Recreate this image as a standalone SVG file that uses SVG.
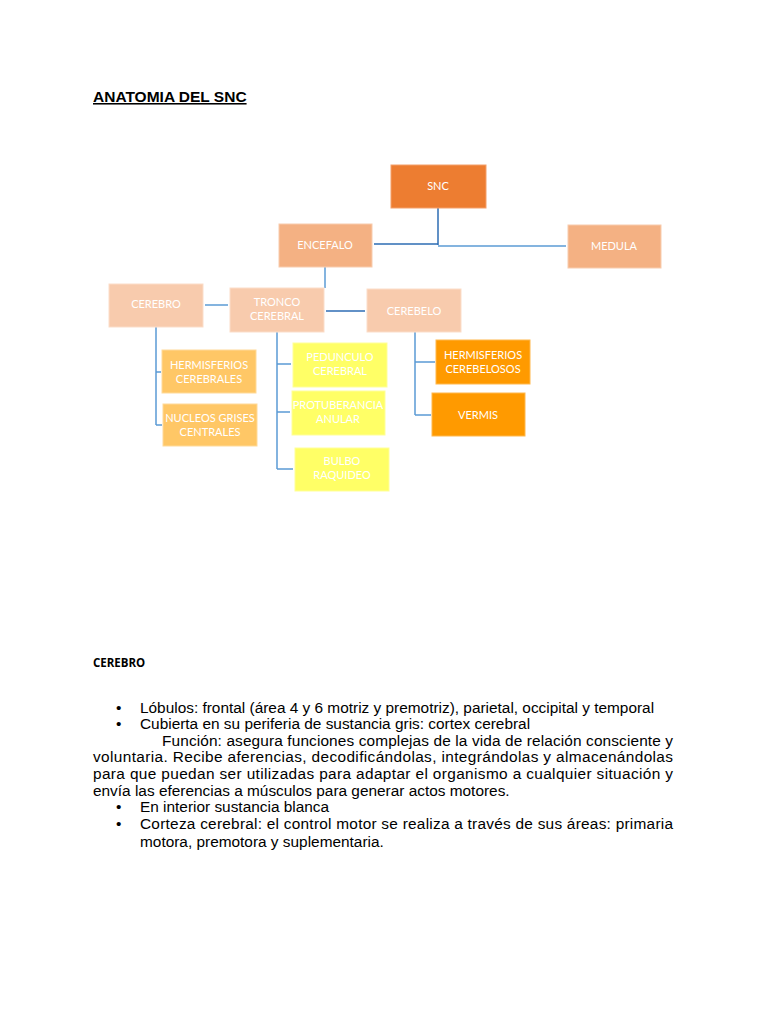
<svg xmlns="http://www.w3.org/2000/svg" width="768" height="1024" viewBox="0 0 768 1024">
<style>
.box{stroke-width:1}
.bt{font-family:Lato,"Open Sans",sans-serif;font-size:11px;fill:#ffffff;text-anchor:middle}
.c{fill:none;stroke:#5B9BD5;stroke-width:1.5}
.cd{fill:none;stroke:#2E6DB4;stroke-width:1.5}
.body{font-family:"Liberation Sans",Arial,sans-serif;font-size:15.4px;fill:#000}
</style>
<rect width="768" height="1024" fill="#ffffff"/>
<text x="93" y="102" font-family="Liberation Sans,Arial,sans-serif" font-size="15.5" font-weight="bold" text-decoration="underline">ANATOMIA DEL SNC</text>

<g id="connectors">
<path class="cd" d="M438 208 V245 M374 244 H438"/>
<path class="c" d="M438 246 H566"/>
<path class="c" d="M325 267 V288"/>
<path class="c" d="M205 305 H228"/>
<path class="cd" d="M326 311 H365"/>
<path class="c" d="M156 327 V425 M156 372 H161 M156 425 H162"/>
<path class="c" d="M277 332 V469 M277 364 H291 M277 412 H290 M277 469 H293"/>
<path class="c" d="M415 332 V415 M415 362 H435 M415 415 H431"/>
</g>

<g id="snc"><rect class="box" x="391" y="165" width="95" height="43" fill="#ED7D31" stroke="#F4A06A"/><text class="bt" x="438" y="190">SNC</text></g>
<g id="encefalo"><rect class="box" x="279" y="224" width="93" height="43" fill="#F4B183" stroke="#F8CCAE"/><text class="bt" x="325" y="249">ENCEFALO</text></g>
<g id="medula"><rect class="box" x="568" y="225" width="93" height="43" fill="#F4B183" stroke="#F8CCAE"/><text class="bt" x="614" y="250">MEDULA</text></g>
<g id="cerebro"><rect class="box" x="109" y="284" width="94" height="43" fill="#F8CBAD" stroke="#FBDDC9"/><text class="bt" x="156" y="308">CEREBRO</text></g>
<g id="tronco"><rect class="box" x="230" y="288" width="94" height="44" fill="#F8CBAD" stroke="#FBDDC9"/><text class="bt" x="277" y="306">TRONCO</text><text class="bt" x="277" y="320">CEREBRAL</text></g>
<g id="cerebelo"><rect class="box" x="367" y="289" width="94" height="43" fill="#F8CBAD" stroke="#FBDDC9"/><text class="bt" x="414" y="315">CEREBELO</text></g>
<g id="hemisferios-cerebrales"><rect class="box" x="162" y="350" width="94" height="43" fill="#FFC766" stroke="#FFDA99"/><text class="bt" x="209" y="369">HERMISFERIOS</text><text class="bt" x="209" y="383">CEREBRALES</text></g>
<g id="nucleos"><rect class="box" x="163" y="404" width="94" height="42" fill="#FFC766" stroke="#FFDA99"/><text class="bt" x="210" y="422">NUCLEOS GRISES</text><text class="bt" x="210" y="436">CENTRALES</text></g>
<g id="pedunculo"><rect class="box" x="293" y="343" width="94" height="44" fill="#FFFF66" stroke="#FFFF99"/><text class="bt" x="340" y="361">PEDUNCULO</text><text class="bt" x="340" y="375">CEREBRAL</text></g>
<g id="protuberancia"><rect class="box" x="292" y="391" width="93" height="44" fill="#FFFF66" stroke="#FFFF99"/><text class="bt" x="338" y="409">PROTUBERANCIA</text><text class="bt" x="338" y="423">ANULAR</text></g>
<g id="bulbo"><rect class="box" x="295" y="448" width="94" height="43" fill="#FFFF66" stroke="#FFFF99"/><text class="bt" x="342" y="465">BULBO</text><text class="bt" x="342" y="479">RAQUIDEO</text></g>
<g id="hemisferios-cerebelosos"><rect class="box" x="436" y="340" width="94" height="44" fill="#FF9A00" stroke="#FFB84D"/><text class="bt" x="483" y="359">HERMISFERIOS</text><text class="bt" x="483" y="373">CEREBELOSOS</text></g>
<g id="vermis"><rect class="box" x="432" y="393" width="93" height="43" fill="#FF9A00" stroke="#FFB84D"/><text class="bt" x="478" y="419">VERMIS</text></g>

<text x="93" y="667" font-family="'Open Sans',sans-serif" font-size="11.5" font-weight="bold">CEREBRO</text>
<g class="body">
<text x="116" y="713">•</text><text x="140" y="713">Lóbulos: frontal (área 4 y 6 motriz y premotriz), parietal, occipital y temporal</text>
<text x="116" y="729">•</text><text x="140" y="729">Cubierta en su periferia de sustancia gris: cortex cerebral</text>
<text x="162" y="746" textLength="511" lengthAdjust="spacing">Función: asegura funciones complejas de la vida de relación consciente y</text>
<text x="93" y="762" textLength="580" lengthAdjust="spacing">voluntaria. Recibe aferencias, decodificándolas, integrándolas y almacenándolas</text>
<text x="93" y="779" textLength="580" lengthAdjust="spacing">para que puedan ser utilizadas para adaptar el organismo a cualquier situación y</text>
<text x="93" y="796">envía las eferencias a músculos para generar actos motores.</text>
<text x="116" y="812">•</text><text x="140" y="812">En interior sustancia blanca</text>
<text x="116" y="829">•</text><text x="140" y="829" textLength="533" lengthAdjust="spacing">Corteza cerebral: el control motor se realiza a través de sus áreas: primaria</text>
<text x="140" y="847">motora, premotora y suplementaria.</text>
</g>
</svg>
